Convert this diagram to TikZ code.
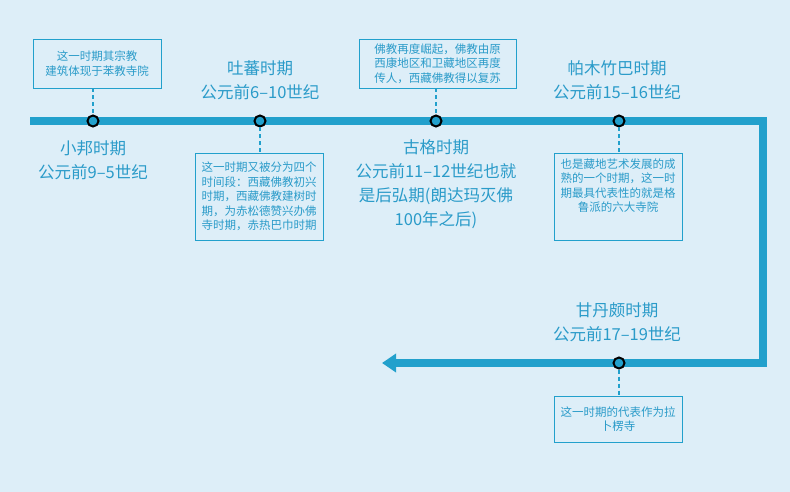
\documentclass[tikz,border=0pt]{standalone}
\usepackage{fontspec}
\setmainfont{Noto Sans CJK SC}
\usetikzlibrary{arrows.meta}
\definecolor{bgblue}{HTML}{DDEEF8}
\definecolor{lineblue}{HTML}{22A0CC}
\definecolor{textblue}{HTML}{2A9BC9}
\tikzset{
  period/.style={text=textblue,font=\fontsize{16.5}{24}\selectfont,align=center},
  note/.style={draw=lineblue,thick,text=textblue,font=\fontsize{11.5}{14.5}\selectfont,
    align=center,inner sep=2pt,minimum width=128pt},
  dot/.style={circle,draw=black,fill=lineblue,line width=2pt,minimum size=11pt,inner sep=0pt},
  stem/.style={lineblue,line width=1.8pt,dash pattern=on 4pt off 3pt}
}
\begin{document}
\begin{tikzpicture}[x=1pt,y=-1pt]
    \fill[bgblue](0,0)rectangle(790,492);
    \useasboundingbox(0,0)rectangle(790,492);

    \draw[lineblue,line width=8pt,-{Triangle[length=14pt,width=18pt]}]
        (30,121)--(763,121)--(763,363)--(382,363);

    % timeline points
    \node[dot](p1)at(93,121){};
    \node[dot](p2)at(260,121){};
    \node[dot](p3)at(436,121){};
    \node[dot](p4)at(619,121){};
    \node[dot](p5)at(619,363){};

    % period labels
    \node[period](l1)at(93,160){小邦时期\\公元前9–5世纪};
    \node[period](l2)at(260,80){吐蕃时期\\公元前6–10世纪};
    \node[period](l3)at(436,184){古格时期\\公元前11–12世纪也就\\是后弘期(朗达玛灭佛\\100年之后)};
    \node[period](l4)at(617,80){帕木竹巴时期\\公元前15–16世纪};
    \node[period](l5)at(617,322){甘丹颇时期\\公元前17–19世纪};

    % notes
    \node[note,minimum height=49pt](n1)at(97,63.5){这一时期其宗教\\建筑体现于苯教寺院};
    \node[note,minimum height=87pt,align=left](n2)at(259,196.5){这一时期又被分为四个\\时间段：西藏佛教初兴\\时期，西藏佛教建树时\\期，为赤松德赞兴办佛\\寺时期，赤热巴巾时期};
    \node[note,minimum height=49pt,minimum width=157pt](n3)at(437.5,63.5){佛教再度崛起，佛教由原\\西康地区和卫藏地区再度\\传人，西藏佛教得以复苏};
    \node[note,minimum height=87pt](n4)at(618,196.5){也是藏地艺术发展的成\\熟的一个时期，这一时\\期最具代表性的就是格\\鲁派的六大寺院\\[8pt]\mbox{}};
    \node[note,minimum height=46pt](n5)at(618,419){这一时期的代表作为拉\\卜楞寺};

    \draw[stem](n1.south-|p1)--(p1);
    \draw[stem](p2)--(n2.north-|p2);
    \draw[stem](n3.south-|p3)--(p3);
    \draw[stem](p4)--(n4.north-|p4);
    \draw[stem](p5)--(n5.north-|p5);
\end{tikzpicture}
\end{document}
